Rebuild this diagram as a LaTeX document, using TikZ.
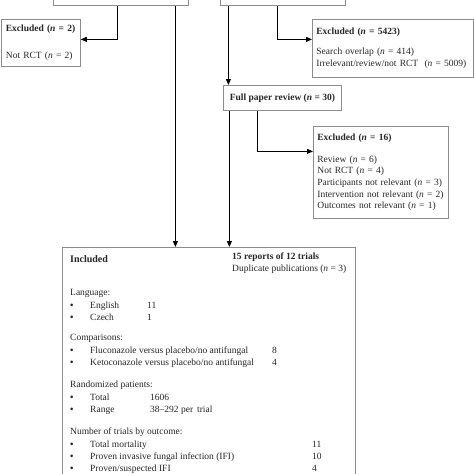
\documentclass[tikz,border=0pt]{standalone}
\usepackage{fontspec}
\setmainfont{Liberation Serif}
\usepackage{xcolor}
\usetikzlibrary{arrows.meta}
\renewcommand{\arraystretch}{1.05}
\newcommand{\bul}{\textbf{\textbullet}}

\begin{document}
\begin{tikzpicture}[x=1pt, y=-1pt, font=\fontsize{9.5}{11.7}\selectfont,
  b/.style={draw=black!45, line width=0.8pt, inner sep=0pt, anchor=north west},
  ex/.style={b, inner xsep=4pt, align=left, text=black!85},
  sec/.style={anchor=north west, inner sep=0pt, text=black!85},
  arr/.style={-{Triangle[length=6pt, width=5pt]}, line width=0.8pt}]
\useasboundingbox (0,0) rectangle (474,474);
% search boxes (cut off at the top)
\node[b, minimum width=135pt, minimum height=40pt] (srchA) at (53,-35) {};
\node[b, minimum width=125pt, minimum height=40pt] (srchB) at (220,-35) {};
% exclusions
\node[ex, inner xsep=5pt, text width=69.5pt, minimum height=47pt] (exA) at (0.5,19)
  {\textbf{Excluded (\textit{n} = 2)}\\[15pt]Not RCT (\textit{n} = 2)};
\node[ex, text width=153pt, minimum height=58pt] (exB) at (312,19)
  {\textbf{Excluded (\textit{n} = 5423)}\\[8pt]Search overlap (\textit{n} = 414)\\
   Irrelevant/review/not RCT\ \ (\textit{n} = 5009)};
\node[ex, align=center, minimum width=118pt, minimum height=25pt] (full) at (223,85)
  {\textbf{Full paper review (\textit{n} = 30)}};
\node[ex, text width=127pt, minimum height=92pt] (exC) at (313,126)
  {\textbf{Excluded (\textit{n} = 16)}\\[10pt]Review (\textit{n} = 6)\\Not RCT (\textit{n} = 4)\\
   Participants not relevant (\textit{n} = 3)\\Intervention not relevant (\textit{n} = 2)\\
   Outcomes not relevant (\textit{n} = 1)};
% included
\node[b, minimum width=293pt, minimum height=260pt] (incl) at (62,247) {};
\node[sec, anchor=west, font=\bfseries] (inTitle) at (70,259) {Included};
\node[sec, align=left] (reports) at (232,253)
  {\textbf{15 reports of 12 trials}\\Duplicate publications (\textit{n} = 3)};
\node[sec] (lang) at (70,287) {\begin{tabular}{@{}p{20pt}@{}p{57pt}@{}l@{}}
  \multicolumn{3}{@{}l@{}}{Language:}\\
  \bul & English & 11\\
  \bul & Czech & 1
  \end{tabular}};
\node[sec] (comp) at (70,332) {\begin{tabular}{@{}p{20pt}@{}p{182pt}@{}l@{}}
  \multicolumn{3}{@{}l@{}}{Comparisons:}\\
  \bul & Fluconazole versus placebo/no antifungal & 8\\
  \bul & Ketoconazole versus placebo/no antifungal & 4
  \end{tabular}};
\node[sec] (rand) at (70,379) {\begin{tabular}{@{}p{20pt}@{}p{60pt}@{}l@{}}
  \multicolumn{3}{@{}l@{}}{Randomized patients:}\\
  \bul & Total & 1606\\
  \bul & Range & 38--292 per\ \,trial
  \end{tabular}};
\node[sec] (outc) at (70,426) {\begin{tabular}{@{}p{20pt}@{}p{222pt}@{}l@{}}
  \multicolumn{3}{@{}l@{}}{Number of trials by outcome:}\\
  \bul & Total mortality & 11\\
  \bul & Proven invasive fungal infection (IFI) & 10\\
  \bul & Proven/suspected IFI & 4
  \end{tabular}};
% connectors
\coordinate (tA) at ([xshift=54.5pt]srchA.south);
\coordinate (tB) at ([xshift=-54.5pt]srchB.south);
\coordinate (tF) at ([xshift=-53pt]full.south);
\draw[arr] ([xshift=-3.5pt]srchA.south) |- ([yshift=3.5pt]exA.east);
\draw[arr] (tA) -- (tA |- incl.north);
\draw[arr] ([xshift=-5.5pt]srchB.south) |- ([yshift=9pt]exB.west);
\draw[arr] (tB) -- (tB |- full.north);
\draw[arr] ([xshift=-25pt]full.south) |- ([yshift=21pt]exC.west);
\draw[arr] (tF) -- (tF |- incl.north);
\end{tikzpicture}
\end{document}
